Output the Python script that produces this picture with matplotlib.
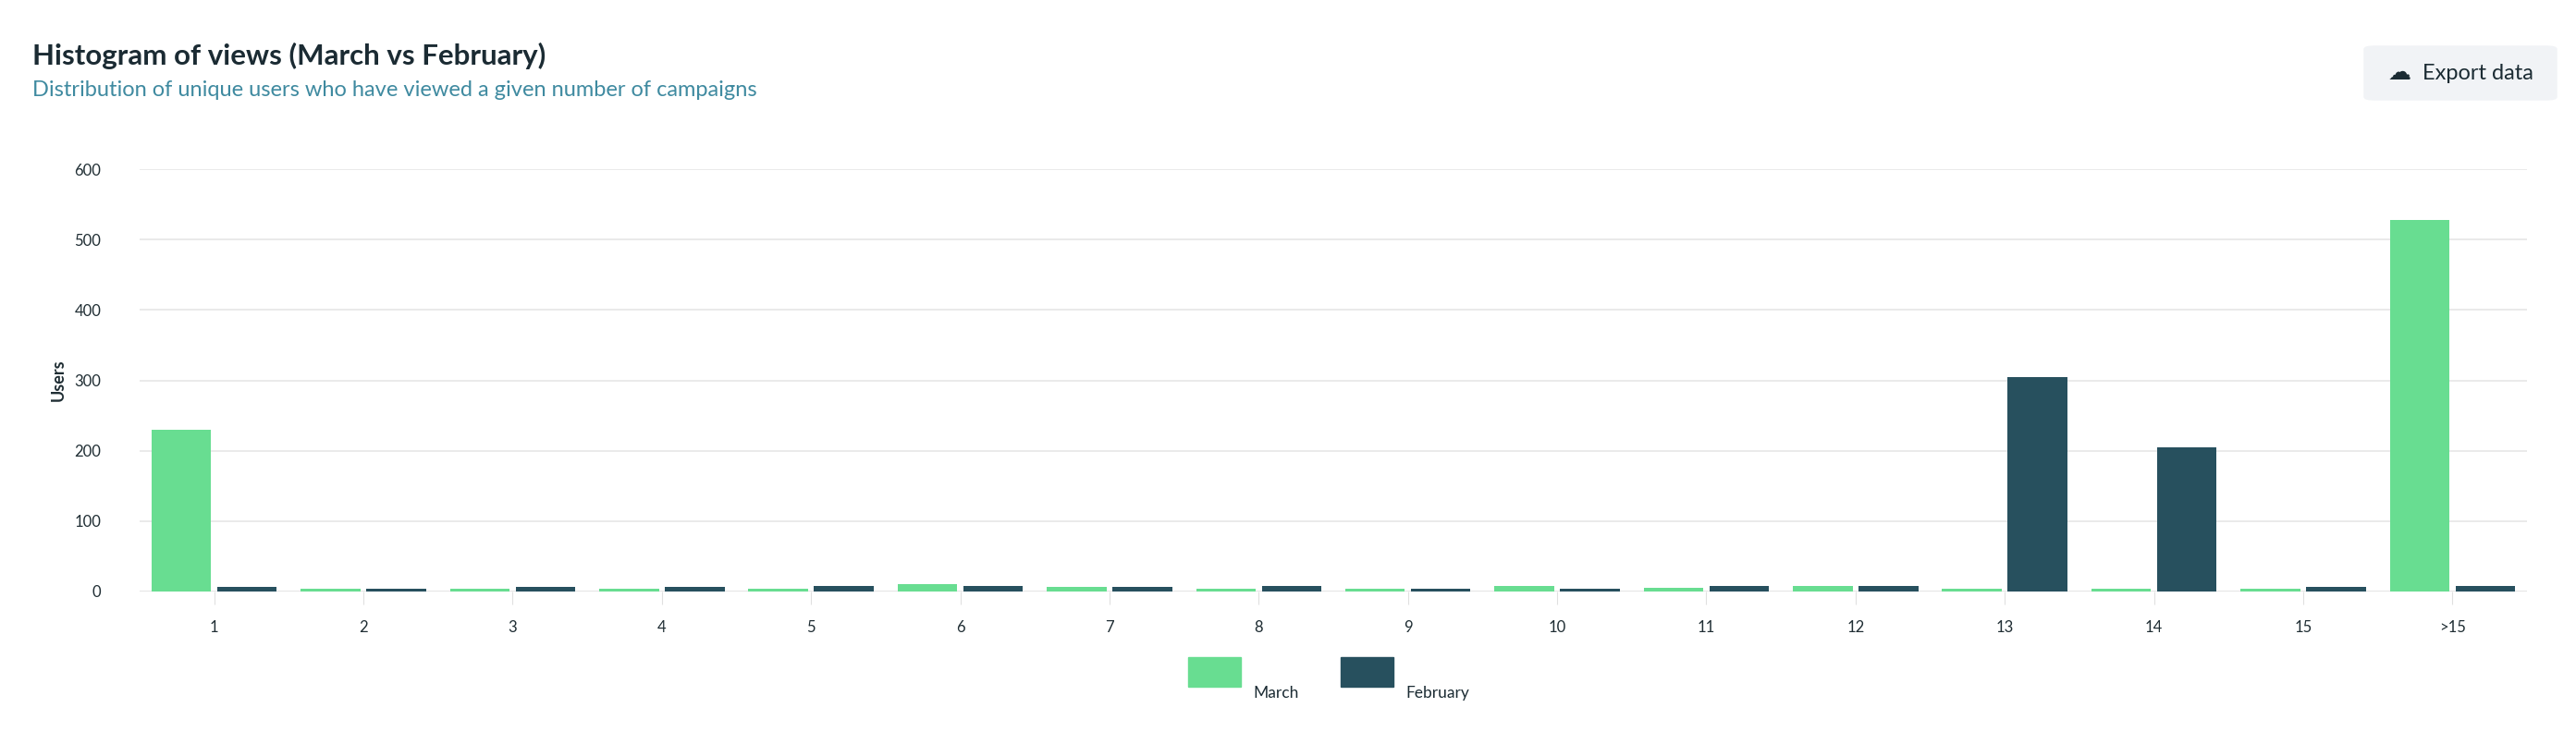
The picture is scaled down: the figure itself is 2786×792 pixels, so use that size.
import numpy as np
import matplotlib.pyplot as plt
from matplotlib.patches import Rectangle, FancyBboxPatch

categories = ['1', '2', '3', '4', '5', '6', '7', '8', '9', '10', '11', '12', '13', '14', '15', '>15']
march = [230, 4, 4, 4, 4, 11, 6, 4, 4, 8, 5, 8, 4, 4, 4, 528]
february = [6, 4, 6, 6, 8, 8, 6, 8, 4, 4, 8, 8, 305, 205, 6, 8]

green = '#68DD91'
navy = '#27505E'
plt.rcParams['font.family'] = ['Lato', 'DejaVu Sans']

W, H = 2786, 792
fig = plt.figure(figsize=(W / 100, H / 100), dpi=100)
ax = fig.add_axes([151 / W, 1 - 640 / H, (2733 - 151) / W, (640 - 183) / H])

x = np.arange(len(categories))
ax.bar(x - 0.22, march, width=0.4, color=green, zorder=2)
ax.bar(x + 0.22, february, width=0.4, color=navy, zorder=2)
ax.set_xlim(-0.5, len(categories) - 0.5)
ax.set_ylim(0, 600)
ax.set_yticks(range(0, 601, 100))
ax.set_xticks(x)
ax.set_xticklabels(categories)
ax.tick_params(axis='x', length=10, color='#e0e0e0', labelsize=12, colors='#1f2d33', pad=12)
ax.tick_params(axis='y', length=0, labelsize=12, colors='#1f2d33', pad=30)
ax.grid(axis='y', color='#e6e6e6', lw=1.2, zorder=0)
ax.axhline(0, color='#dddddd', lw=2, zorder=1)
for s in ax.spines.values():
    s.set_visible(False)
ax.set_ylabel('Users', fontsize=13, fontweight='bold', color='#1f2d33', labelpad=6)

fig.text(35 / W, 1 - 60 / H, 'Histogram of views (March vs February)', fontsize=22.5,
         fontweight='bold', color='#1b2b33', va='center')
fig.text(35 / W, 1 - 98 / H, 'Distribution of unique users who have viewed a given number of campaigns',
         fontsize=17, color='#3f8aa0', va='center')

# export button
fig.patches.append(FancyBboxPatch((2557 / W, 1 - 108 / H), 208 / W, 58 / H,
                                  boxstyle='round,pad=0,rounding_size=0.004',
                                  transform=fig.transFigure, color='#f1f3f6'))
fig.text(2620 / W, 1 - 79 / H, 'Export data', fontsize=17, color='#1b2b33', va='center')
fig.text(2595 / W, 1 - 79 / H, '☁', fontsize=18, color='#1b2b33', va='center', ha='center')

# legend
for lx, col, lab in [(1285, green, 'March'), (1450, navy, 'February')]:
    fig.patches.append(Rectangle((lx / W, 1 - 743 / H), 57 / W, 32 / H,
                                 transform=fig.transFigure, color=col))
    fig.text((lx + 70) / W, 1 - 750 / H, lab, fontsize=12.5, color='#1b2b33', va='center')

fig.savefig('out.png', dpi=100, facecolor='white')
